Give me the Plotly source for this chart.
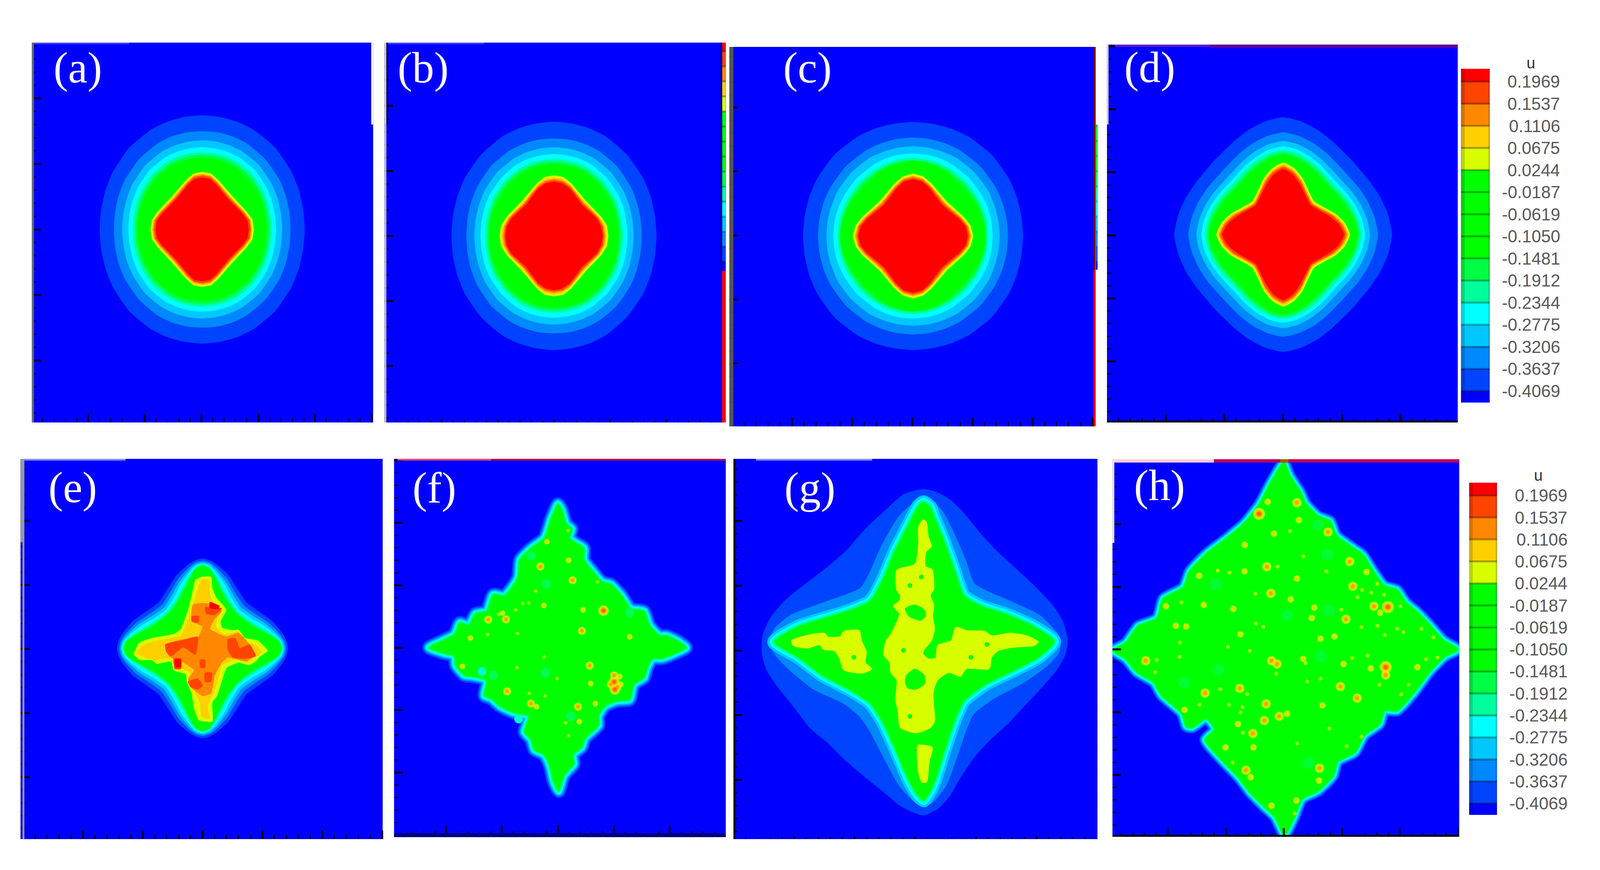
import math
import plotly.graph_objects as go

# positions below were read on the 4348x2226 reference, layout fills whatever window it gets
W, H = 4348, 2226

# contour levels of u, colours of the 16 legend cells (bottom to top)
levels = [-0.4069, -0.3637, -0.3206, -0.2775, -0.2344, -0.1912, -0.1481, -0.1050,
          -0.0619, -0.0187, 0.0244, 0.0675, 0.1106, 0.1537, 0.1969]
level_labels = ["-0.4069", "-0.3637", "-0.3206", "-0.2775", "-0.2344", "-0.1912", "-0.1481", "-0.1050",
                "-0.0619", "-0.0187", "0.0244", "0.0675", "0.1106", "0.1537", "0.1969"]
cell_colors = ["#0000ff", "#0044ff", "#0088ff", "#00c8ff", "#00ffff", "#00ff9c", "#00ff44", "#00ff00",
               "#00ff00", "#00ff00", "#00ff00", "#d8ff00", "#ffd000", "#ff8800", "#ff4400", "#ff0000"]
ring_colors = ["#0044ff", "#0088ff", "#00c8ff", "#00ffff", "#00ff9c", "#00ff44", "#00ff00",
               "#d8ff00", "#ffd000", "#ff8800", "#ff4400", "#ff0000"]
YELLOW, GOLD, ORANGE, RED_ORANGE, RED, GREEN = "#d8ff00", "#ffd000", "#ff8800", "#ff4400", "#ff0000", "#00ff00"

# contour radii, % of the panel size, by angle in a quadrant (outermost contour first)
round_angles = [0, 10, 20, 30, 45]
a_rings = [[30, 30, 30.1, 30.2, 30.3], [25.8, 25.9, 26, 26.1, 26.1], [23.4, 23.4, 23.5, 23.6, 23.7],
           [21.6, 21.6, 21.7, 21.8, 21.9], [20.3, 20.3, 20.4, 20.5, 20.6], [19.6, 19.6, 19.7, 19.7, 19.8],
           [18.9, 18.9, 18.9, 19, 19], [15.1, 14.9, 13.8, 12.9, 12.4], [14.7, 14.5, 13.4, 12.5, 12],
           [14.4, 14.2, 13.1, 12.2, 11.7], [14.1, 13.9, 12.8, 11.9, 11.4], [13.6, 13.4, 12.4, 11.5, 11]]
b_rings = [[30, 30, 30.1, 30.2, 30.2], [25.6, 25.7, 25.8, 25.9, 26], [23.3, 23.3, 23.4, 23.5, 23.6],
           [21.5, 21.5, 21.6, 21.7, 21.7], [20.2, 20.2, 20.3, 20.4, 20.4], [19.5, 19.5, 19.6, 19.7, 19.7],
           [18.9, 18.9, 19, 19, 19], [15.9, 15.7, 14.7, 13.7, 13.1], [15.4, 15.2, 14.3, 13.3, 12.7],
           [15, 14.8, 14, 13, 12.3], [14.6, 14.4, 13.7, 12.7, 12], [14.2, 14, 13.3, 12.3, 11.5]]
c_rings = [[30, 30, 30.1, 30.2, 30.3], [25.9, 25.9, 25.9, 25.9, 25.9], [23.6, 23.6, 23.6, 23.7, 23.7],
           [21.7, 21.7, 21.7, 21.6, 21.6], [20.5, 20.5, 20.4, 20.3, 20.3], [20, 19.9, 19.8, 19.7, 19.6],
           [19.8, 19.6, 19.4, 19.1, 18.8], [16.4, 15.9, 14.7, 13.6, 12.9], [16, 15.5, 14.3, 13.2, 12.5],
           [15.7, 15.2, 14, 12.9, 12.2], [15.3, 14.9, 13.7, 12.6, 11.8], [14.9, 14.5, 13.3, 12.1, 11.4]]
d_rings = [[31, 30.3, 29.3, 28.3, 27.7], [27, 26.4, 25.6, 24.8, 24.1], [24.7, 24.2, 23.4, 22.6, 21.9],
           [23.3, 22.8, 22, 21.2, 20.5], [22.3, 21.8, 21.1, 20.3, 19.6], [21.7, 21.2, 20.3, 19.5, 18.8],
           [21.1, 20.6, 19.6, 18.9, 18.2], [19, 17.8, 15.9, 13.9, 12.4], [18.6, 17.4, 15.5, 13.5, 12],
           [18.2, 17, 15.1, 13.1, 11.7], [17.8, 16.6, 14.7, 12.8, 11.4], [17.3, 16, 14, 12.3, 11]]
star_angles = [0, 5, 10, 20, 30, 45]
e_rings = [[23.6, 23.2, 22.4, 20.6, 18.6, 17.1], [23, 22.6, 21.6, 19.5, 17.4, 16], [22.6, 22.2, 21, 18.6, 16.5, 15.1],
           [22.3, 21.8, 20.4, 17.8, 15.6, 14.3], [22, 21.4, 19.7, 16.6, 14.7, 13.6], [21.8, 21.2, 19.3, 16, 14.2, 13.3],
           [21.7, 21, 19, 15.5, 13.9, 13]]

# panel (e): blotches inside the star
e_yellow = [(775, 497), (815, 497), (820, 540), (835, 575), (878, 625), (855, 670), (860, 695), (905, 705), (930, 703),
            (955, 735), (1010, 745), (1050, 785), (1020, 805), (1000, 825), (975, 840), (930, 830), (880, 850), (860, 900),
            (840, 960), (820, 985), (820, 1060), (765, 1055), (745, 1010), (735, 950), (715, 905), (710, 875), (660, 860),
            (650, 825), (590, 835), (570, 820), (520, 820), (495, 800), (515, 755), (570, 735), (660, 720), (690, 700),
            (720, 625), (735, 570), (750, 510)]
e_gold = [(780, 505), (805, 510), (810, 560), (825, 600), (860, 625), (840, 660), (835, 690), (870, 720), (930, 712),
          (950, 745), (1000, 760), (1025, 790), (990, 815), (965, 830), (925, 818), (860, 840), (845, 895), (825, 950),
          (800, 1000), (810, 1050), (775, 1040), (770, 990), (740, 930), (725, 895), (730, 870), (680, 850), (640, 815),
          (580, 820), (540, 810), (505, 795), (530, 765), (590, 745), (690, 725), (725, 650), (745, 590), (765, 530)]
e_orange = [(740, 605), (800, 600), (860, 630), (830, 660), (810, 700), (850, 720), (880, 730), (930, 715), (975, 760),
            (1000, 800), (960, 825), (885, 810), (860, 830), (830, 880), (815, 950), (780, 960), (730, 925), (720, 895),
            (745, 860), (700, 830), (640, 805), (625, 760), (700, 740), (760, 735), (780, 690), (735, 670)]
e_hot = [[(625, 760), (690, 745), (760, 730), (750, 800), (700, 770), (650, 805), (630, 790)],
         [(885, 740), (915, 735), (935, 775), (975, 760), (1000, 805), (960, 815), (905, 810), (885, 780)],
         [(720, 905), (760, 893), (780, 920), (760, 935), (730, 925)],
         [(790, 615), (860, 620), (830, 645), (795, 640)],
         [(735, 650), (765, 650), (762, 675), (735, 670)],
         [(790, 870), (820, 870), (815, 905), (790, 905)],
         [(770, 820), (790, 820), (790, 850), (770, 850)],
         [(660, 815), (690, 815), (690, 855), (665, 855)]]
e_red = [[(810, 595), (850, 610), (845, 622), (810, 618)], [(665, 818), (690, 818), (688, 848), (668, 848)]]

# panel (f): edge of the green region and the hot spots (x, y, peak band)
f_edge = [(762, 212), (780, 235), (800, 290), (825, 310), (815, 345), (845, 365), (880, 385), (880, 430), (920, 475),
          (960, 515), (1000, 525), (1050, 570), (1090, 620), (1150, 630), (1175, 685), (1220, 725), (1250, 725),
          (1300, 745), (1340, 772), (1290, 795), (1230, 815), (1190, 815), (1165, 850), (1150, 890), (1105, 915),
          (1085, 975), (1030, 980), (975, 1000), (945, 1040), (945, 1075), (885, 1125), (870, 1160), (830, 1190),
          (835, 1225), (790, 1270), (765, 1332), (740, 1290), (725, 1235), (700, 1190), (655, 1170), (640, 1130),
          (610, 1100), (630, 1040), (560, 1025), (500, 1000), (460, 970), (430, 960), (440, 900), (380, 885), (340, 880),
          (300, 840), (295, 805), (250, 795), (180, 772), (240, 745), (295, 720), (320, 675), (360, 685), (390, 640),
          (440, 630), (470, 565), (520, 570), (580, 500), (590, 430), (640, 385), (700, 345), (730, 270)]
f_spots = [(712, 360, 2), (808, 316, 1), (810, 432, 2), (683, 456, 3), (828, 510, 3), (940, 516, 1), (662, 552, 1),
           (603, 600, 1), (630, 598, 1), (572, 625, 1), (698, 608, 2), (512, 638, 2), (528, 662, 3), (448, 663, 3),
           (494, 643, 1), (875, 625, 2), (967, 628, 4), (870, 707, 3), (580, 717, 1), (445, 721, 1), (368, 735, 2),
           (1085, 730, 2), (700, 808, 1), (905, 842, 3), (332, 845, 2), (577, 850, 1), (758, 893, 1), (1040, 885, 2),
           (1045, 915, 2), (1000, 915, 3), (1030, 925, 3), (1015, 880, 3), (1015, 905, 4), (1018, 935, 4), (910, 912, 2),
           (533, 942, 3), (632, 950, 1), (640, 990, 3), (665, 1002, 2), (703, 960, 1), (930, 990, 2), (852, 1002, 3),
           (858, 1060, 2), (810, 1115, 1), (797, 1065, 1)]
f_pale = [(705, 870), (710, 525), (1085, 635), (470, 880), (820, 1040), (640, 415)]
f_cyan = [(420, 865), (585, 1050)]

# panel (g): outer contours, edge of the green region, yellow regions and the holes in them
g_outer = [(822, 155), (870, 165), (930, 195), (990, 250), (1060, 330), (1130, 400), (1200, 460), (1280, 530), (1360, 610),
           (1400, 670), (1420, 745), (1410, 800), (1370, 865), (1310, 930), (1240, 1000), (1170, 1070), (1100, 1130),
           (1040, 1190), (980, 1270), (930, 1350), (880, 1400), (822, 1425), (770, 1410), (720, 1385), (650, 1330),
           (570, 1270), (490, 1205), (420, 1140), (350, 1085), (280, 1000), (220, 930), (170, 860), (150, 790), (155, 720),
           (190, 650), (250, 585), (330, 525), (420, 460), (500, 395), (580, 310), (660, 240), (740, 175)]
g_second = [(822, 192), (860, 205), (900, 240), (945, 320), (1000, 440), (1030, 520), (1080, 550), (1180, 590), (1310, 650),
            (1380, 720), (1390, 750), (1385, 790), (1340, 840), (1235, 910), (1115, 970), (1030, 1030), (1000, 1090),
            (960, 1200), (915, 1310), (860, 1375), (822, 1392), (785, 1375), (720, 1310), (650, 1190), (600, 1100),
            (555, 1040), (490, 990), (365, 935), (265, 860), (205, 800), (180, 748), (205, 695), (270, 645), (380, 605),
            (500, 565), (560, 540), (600, 475), (650, 370), (720, 260), (785, 205)]
g_edge = [(822, 205), (850, 225), (860, 250), (900, 340), (950, 470), (990, 570), (1060, 610), (1160, 640), (1280, 690),
          (1365, 748), (1300, 810), (1200, 860), (1080, 915), (990, 980), (950, 1060), (910, 1170), (870, 1290),
          (845, 1340), (822, 1368), (795, 1345), (760, 1290), (700, 1160), (650, 1060), (600, 990), (520, 940),
          (400, 880), (300, 810), (200, 750), (300, 690), (400, 660), (520, 625), (600, 590), (650, 510), (700, 400),
          (760, 290), (800, 220)]
g_yellow = [[(822, 272), (835, 285), (842, 340), (855, 378), (832, 400), (830, 455), (858, 468), (865, 545), (850, 570),
             (865, 605), (860, 650), (868, 700), (855, 745), (825, 780), (820, 795), (840, 815), (870, 812), (880, 762),
             (935, 745), (955, 692), (1000, 705), (1075, 708), (1105, 725), (1180, 715), (1250, 725), (1300, 750),
             (1280, 765), (1190, 772), (1130, 785), (1105, 810), (1095, 855), (1000, 855), (975, 885), (925, 870),
             (880, 900), (862, 950), (868, 1060), (850, 1085), (790, 1105), (725, 1085), (715, 1020), (705, 975),
             (710, 900), (685, 870), (680, 830), (655, 800), (665, 745), (685, 720), (715, 660), (720, 640), (695, 610),
             (720, 590), (725, 570), (710, 550), (710, 470), (780, 450), (790, 440), (800, 370), (800, 300)],
            [(272, 745), (330, 725), (410, 715), (425, 730), (475, 728), (490, 708), (555, 705), (565, 745), (585, 790),
             (580, 830), (608, 855), (570, 872), (490, 860), (470, 810), (450, 785), (405, 780), (390, 762), (340, 775),
             (280, 765)],
            [(798, 1152), (858, 1160), (845, 1220), (835, 1295), (815, 1298), (800, 1260), (795, 1200)]]
g_holes = [[(745, 620), (785, 605), (825, 625), (830, 650), (810, 667), (760, 650)],
           [(750, 880), (785, 855), (825, 880), (825, 915), (790, 935), (755, 930), (745, 905)]]
g_small_holes = [(812, 497), (765, 530), (738, 783), (765, 1040), (532, 810), (1018, 810), (1085, 760)]

# panel (h): edge of the green region and the hot spots (x, y, peak band)
h_edge = [(570, 48), (590, 100), (625, 165), (640, 205), (680, 255), (720, 275), (740, 330), (790, 375), (825, 405),
          (860, 470), (895, 525), (935, 540), (965, 590), (1000, 625), (1040, 675), (1085, 735), (1133, 772), (1090, 800),
          (1040, 860), (1000, 925), (965, 975), (935, 1010), (895, 1010), (880, 1060), (830, 1105), (800, 1170),
          (745, 1205), (730, 1260), (680, 1320), (630, 1350), (605, 1420), (572, 1490), (540, 1420), (505, 1380),
          (460, 1325), (425, 1270), (365, 1195), (315, 1120), (345, 1080), (320, 1040), (275, 1075), (255, 1070),
          (240, 1020), (175, 950), (150, 900), (95, 860), (60, 810), (18, 775), (60, 745), (100, 680), (160, 650),
          (180, 575), (245, 530), (265, 470), (320, 400), (380, 345), (440, 285), (490, 210), (525, 130)]
h_spots = [(490, 248, 4), (518, 202, 2), (612, 205, 3), (618, 272, 2), (590, 315, 1), (538, 325, 2), (712, 318, 3),
           (444, 368, 2), (633, 412, 1), (782, 432, 3), (515, 452, 3), (550, 452, 1), (357, 467, 1), (395, 475, 1),
           (443, 470, 2), (297, 487, 2), (707, 470, 1), (836, 473, 2), (612, 498, 2), (792, 528, 3), (822, 542, 1),
           (870, 518, 1), (528, 555, 3), (478, 556, 1), (592, 578, 2), (807, 570, 1), (852, 552, 1), (893, 560, 1),
           (190, 605, 2), (240, 590, 1), (312, 600, 2), (407, 615, 2), (860, 605, 3), (905, 608, 4), (880, 630, 2),
           (945, 605, 1), (668, 610, 2), (660, 650, 2), (770, 655, 3), (755, 618, 1), (222, 680, 2), (255, 683, 2),
           (480, 672, 1), (504, 684, 1), (820, 686, 1), (872, 680, 1), (1013, 692, 1), (935, 692, 1), (430, 713, 2),
           (688, 730, 2), (733, 722, 2), (895, 716, 1), (1052, 725, 1), (955, 705, 1), (235, 745, 1), (390, 762, 1),
           (460, 777, 1), (125, 815, 3), (160, 812, 1), (155, 860, 1), (530, 815, 3), (548, 828, 3), (632, 808, 2),
           (640, 825, 1), (762, 828, 2), (790, 805, 1), (840, 795, 1), (1065, 803, 1), (1028, 810, 1), (1000, 840, 2),
           (898, 840, 4), (898, 870, 3), (850, 845, 2), (235, 800, 1), (545, 865, 1), (688, 885, 1), (645, 895, 1),
           (752, 915, 3), (972, 908, 1), (878, 908, 1), (806, 960, 3), (948, 945, 1), (316, 940, 3), (365, 925, 1),
           (428, 922, 3), (452, 945, 1), (298, 985, 1), (393, 985, 1), (513, 982, 3), (694, 988, 2), (250, 1005, 2),
           (437, 995, 1), (430, 1015, 1), (555, 1030, 3), (580, 1020, 2), (507, 1046, 3), (422, 1060, 2), (716, 1077, 1),
           (470, 1096, 3), (438, 1093, 1), (820, 1108, 1), (382, 1150, 2), (472, 1150, 2), (612, 1135, 1), (772, 1145, 1),
           (685, 1230, 3), (448, 1238, 3), (463, 1265, 2), (683, 1278, 2), (610, 1355, 2), (530, 1375, 2), (605, 1405, 1),
           (405, 1208, 1)]
h_pale = [(680, 290), (710, 405), (350, 520), (715, 620), (690, 800), (360, 850), (250, 900), (580, 640), (650, 1210)]

# panels: label, label position, pixel box on the page, axis ranges, tick start and spacing (x then y)
panels = [
    dict(name="(a)", at=(238, 140), box=(87, 1018, 109, 1081), xr=(41, 1502), yr=(1510, 44), xt=(767, 243), yt=(765, 253), xlen=22),
    dict(name="(b)", at=(195, 140), box=(1049, 1980, 109, 1081), xr=(30, 1490), yr=(1510, 44), xt=(755, 240), yt=(790, 251), xlen=8),
    dict(name="(c)", at=(348, 140), box=(1990, 2989, 120, 1091), xr=(30, 1522), yr=(1525, 60), xt=(775, 245), yt=(788, 247), xlen=22),
    dict(name="(d)", at=(170, 140), box=(3020, 3977, 114, 1081), xr=(35, 1140), yr=(1510, 52), xt=(590, 185), yt=(788, 243), xlen=22),
    dict(name="(e)", at=(240, 148), box=(56, 1044, 1174, 2147), xr=(24, 1528), yr=(1518, 37), xt=(780, 248.5), yt=(778, 249.5), xlen=22),
    dict(name="(f)", at=(205, 150), box=(1075, 1980, 1174, 2142), xr=(24, 1518), yr=(1510, 37), xt=(762, 252), yt=(772, 243), xlen=30),
    dict(name="(g)", at=(350, 150), box=(2001, 2994, 1174, 2147), xr=(32, 1544), yr=(1518, 37), xt=(787, 252), yt=(783, 252), xlen=8),
    dict(name="(h)", at=(170, 138), box=(3035, 3981, 1175, 2141), xr=(18, 1135), yr=(1495, 37), xt=(570, 187), yt=(772, 242), xlen=22),
]

# edge slivers left over on each panel: panel index, x0, x1, y0, y1, colour
slivers = [
    (0, 41, 50, 44, 1510, "#666666"), (0, 50, 458, 44, 50, "#4444ff"), (0, 1494, 1502, 44, 360, "#ffffff"),
    (1, 30, 38, 360, 1510, "#bbbbbb"), (1, 30, 38, 44, 360, "#cccccc"), (1, 38, 44, 44, 360, "#000044"),
    (1, 44, 455, 44, 50, "#4444ff"), (1, 1474, 1490, 925, 1510, "#ff0000"), (1, 1468, 1474, 44, 920, "#000066"),
    (2, 30, 46, 60, 1525, "#555555"), (2, 1514, 1522, 60, 920, "#800000"), (2, 1514, 1522, 920, 1525, "#ff0000"),
    (3, 35, 40, 52, 360, "#cccccc"), (3, 60, 360, 52, 60, "#6a20c0"), (3, 360, 1140, 52, 66, "#5a00a0"),
    (3, 35, 1140, 1503, 1510, "#000000"),
    (4, 24, 40, 37, 362, "#999999"), (4, 32, 40, 362, 1518, "#999999"), (4, 40, 460, 37, 44, "#8888ee"),
    (5, 40, 462, 37, 44, "#e0407a"), (5, 462, 1518, 37, 44, "#c0004a"), (5, 24, 1518, 1495, 1510, "#000080"),
    (6, 32, 40, 37, 1518, "#000000"), (6, 125, 608, 37, 44, "#8888ee"),
    (7, 18, 345, 37, 50, "#ffd0d0"), (7, 345, 1135, 37, 50, "#b8005a"), (7, 558, 585, 37, 50, "#a06000"),
    (7, 18, 24, 37, 360, "#dddddd"), (7, 18, 1135, 1488, 1495, "#000000"),
]

# legend bars: pixel box, right edge of the labels, "u" position
legend_bars = [
    dict(box=(3986, 4064, 176, 1030), labels_right=4258, u_x=4176, u_y=161),
    dict(box=(4008, 4084, 1235, 2085), labels_right=4279, u_x=4197, u_y=1216),
]
# colour strips left on the edges of (b) and (c)
edge_strips = [dict(box=(1970, 1980, 109, 690), low=None), dict(box=(2990, 2994, 319, 690), low=-0.015)]

round_rings = {0: (a_rings, (770, 765), "linear"), 1: (b_rings, (755, 790), "linear"),
               2: (c_rings, (778, 790), "linear"), 3: (d_rings, (590, 785), "spline")}


def whole_angles(angles):
    # quadrant table mirrored round the whole circle
    quarter = angles + [90 - a for a in reversed(angles[:-1])]
    whole = []
    for q in range(4):
        whole += [a + 90 * q for a in quarter[:-1]]
    return whole


def whole_radii(radii):
    quarter = radii + list(reversed(radii[:-1]))
    return quarter[:-1] * 4


def area(fig, n, pts, color, shape="spline", smoothing=0.6):
    xs = [p[0] for p in pts] + [pts[0][0]]
    ys = [p[1] for p in pts] + [pts[0][1]]
    fig.add_trace(go.Scatter(x=xs, y=ys, mode="lines", fill="toself", fillcolor=color,
                             line=dict(color=color, width=1, shape=shape, smoothing=smoothing),
                             xaxis=f"x{n}", yaxis=f"y{n}", hoverinfo="skip", showlegend=False))


def halo(fig, n, pts, bands):
    xs = [p[0] for p in pts] + [pts[0][0]]
    ys = [p[1] for p in pts] + [pts[0][1]]
    for color, width in bands:
        fig.add_trace(go.Scatter(x=xs, y=ys, mode="lines",
                                 line=dict(color=color, width=width, shape="spline", smoothing=0.6),
                                 xaxis=f"x{n}", yaxis=f"y{n}", hoverinfo="skip", showlegend=False))


def rings(fig, n, panel, table, angles, center, colors, inner_shape="spline"):
    sx = (panel["xr"][1] - panel["xr"][0]) / 100
    sy = (panel["yr"][0] - panel["yr"][1]) / 100
    deg = whole_angles(angles)
    for k, (radii, color) in enumerate(zip(table, colors)):
        pts = [(center[0] + r * sx * math.cos(math.radians(t)), center[1] - r * sy * math.sin(math.radians(t)))
               for r, t in zip(whole_radii(radii), deg)]
        # flat-sided diamonds in the middle come out concave with a spline
        area(fig, n, pts, color, shape=inner_shape if k >= 7 else "spline", smoothing=0.5)


def spots(fig, n, table, tiers, base=9, step=6):
    for j, color in enumerate(tiers):
        chosen = [s for s in table if s[2] >= j + 1]
        fig.add_trace(go.Scatter(x=[s[0] for s in chosen], y=[s[1] for s in chosen], mode="markers",
                                 marker=dict(color=color, size=[base + step * (s[2] - j - 1) for s in chosen], line_width=0),
                                 xaxis=f"x{n}", yaxis=f"y{n}", hoverinfo="skip", showlegend=False))


def blobs(fig, n, xy, color, size):
    fig.add_trace(go.Scatter(x=[p[0] for p in xy], y=[p[1] for p in xy], mode="markers",
                             marker=dict(color=color, size=size, line_width=0),
                             xaxis=f"x{n}", yaxis=f"y{n}", hoverinfo="skip", showlegend=False))


def dom(box):
    return dict(x=[box[0] / W, box[1] / W], y=[1 - box[3] / H, 1 - box[2] / H])


fig = go.Figure()
layout = {}
annotations = []
shapes = []

for i, p in enumerate(panels):
    n = i + 1
    d = dom(p["box"])
    suffix = "" if n == 1 else str(n)
    layout["xaxis" + suffix] = dict(
        domain=d["x"], range=list(p["xr"]), anchor=f"y{n}", showgrid=False, zeroline=False, showticklabels=False,
        ticks="inside", tick0=p["xt"][0], dtick=p["xt"][1], ticklen=p["xlen"], tickwidth=5, tickcolor="#000022",
        minor=dict(ticks="inside", tick0=p["xt"][0], dtick=p["xt"][1] / 5, ticklen=max(p["xlen"] // 2, 5),
                   tickwidth=3, tickcolor="#000033", showgrid=False))
    layout["yaxis" + suffix] = dict(
        domain=d["y"], range=list(p["yr"]), anchor=f"x{n}", showgrid=False, zeroline=False, showticklabels=False,
        ticks="inside", tick0=p["yt"][0], dtick=p["yt"][1], ticklen=22, tickwidth=5, tickcolor="#000022",
        minor=dict(ticks="inside", tick0=p["yt"][0], dtick=p["yt"][1] / 5, ticklen=11,
                   tickwidth=3, tickcolor="#000033", showgrid=False))
    annotations.append(dict(text=p["name"], x=p["at"][0], y=p["at"][1], xref=f"x{n}", yref=f"y{n}", showarrow=False,
                            font=dict(family="Liberation Serif", size=112, color="#ffffff")))

for i, (tbl, c, inner) in round_rings.items():
    rings(fig, i + 1, panels[i], tbl, round_angles, c, ring_colors, inner)

# (e)
rings(fig, 5, panels[4], e_rings, star_angles, (780, 775), ring_colors)
area(fig, 5, e_yellow, YELLOW, smoothing=0.4)
area(fig, 5, e_gold, GOLD, smoothing=0.4)
area(fig, 5, e_orange, ORANGE, smoothing=0.4)
for blob in e_hot:
    area(fig, 5, blob, RED_ORANGE, smoothing=0.4)
for blob in e_red:
    area(fig, 5, blob, RED, smoothing=0.4)

# (f)
halo(fig, 6, f_edge, [("#0044ff", 34), ("#0088ff", 26), ("#00c8ff", 20), ("#00ffff", 14), ("#00ff9c", 8)])
area(fig, 6, f_edge, GREEN)
blobs(fig, 6, f_pale, "#00ff50", 24)
blobs(fig, 6, f_cyan, "#00ffcc", 22)
spots(fig, 6, f_spots, [YELLOW, GOLD, ORANGE, RED_ORANGE])

# (g)
area(fig, 7, g_outer, "#0044ff")
area(fig, 7, g_second, "#0088ff")
halo(fig, 7, g_edge, [("#00c8ff", 34), ("#00ffff", 22), ("#00ff9c", 10)])
area(fig, 7, g_edge, GREEN)
for blob in g_yellow:
    area(fig, 7, blob, YELLOW)
for blob in g_holes:
    area(fig, 7, blob, GREEN)
blobs(fig, 7, g_small_holes, GREEN, 12)

# (h)
halo(fig, 8, h_edge, [("#0044ff", 28), ("#0088ff", 22), ("#00c8ff", 16), ("#00ffff", 11), ("#00ff9c", 6)])
area(fig, 8, h_edge, GREEN)
blobs(fig, 8, h_pale, "#00ff30", 30)
spots(fig, 8, h_spots, [YELLOW, GOLD, ORANGE, RED_ORANGE], base=10, step=7)

# legends and strips
step = levels[1] - levels[0]
edges = [levels[0] - 0.52 * step] + levels + [levels[-1] + 0.58 * step]
scale = []
for k, c in enumerate(cell_colors):
    scale += [[k / 16, c], [(k + 1) / 16, c]]


def level_bar(n, box, low_top=None):
    d = dom(box)
    top = edges[-1] if low_top is None else low_top
    fig.add_trace(go.Heatmap(z=[[k] for k in range(16)], x=[0, 1], y=edges, colorscale=scale, zmin=-0.5, zmax=15.5,
                             showscale=False, xaxis=f"x{n}", yaxis=f"y{n}", hoverinfo="skip"))
    lx, ly = [], []
    for v in levels:
        lx += [0, 1, None]
        ly += [v, v, None]
    fig.add_trace(go.Scatter(x=lx, y=ly, mode="lines", line=dict(color="rgba(0,0,0,0.3)", width=5),
                             xaxis=f"x{n}", yaxis=f"y{n}", hoverinfo="skip", showlegend=False))
    layout[f"xaxis{n}"] = dict(domain=d["x"], range=[0, 1], anchor=f"y{n}", visible=False)
    layout[f"yaxis{n}"] = dict(domain=d["y"], range=[edges[0], top], anchor=f"x{n}", visible=False)


n = 9
for bar in legend_bars:
    level_bar(n, bar["box"])
    shapes.append(dict(type="rect", xref=f"x{n}", yref=f"y{n}", x0=0, x1=0.13, y0=edges[0], y1=edges[-1],
                       fillcolor="rgba(0,0,0,0.16)", line_width=0))
    shapes.append(dict(type="rect", xref=f"x{n}", yref=f"y{n}", x0=0.95, x1=1, y0=edges[0], y1=edges[-1],
                       fillcolor="rgba(0,0,0,0.16)", line_width=0))
    for v, lab in zip(levels, level_labels):
        annotations.append(dict(text=lab, x=bar["labels_right"] / W, xref="paper", xanchor="right", y=v, yref=f"y{n}",
                                yanchor="middle", showarrow=False,
                                font=dict(family="Liberation Sans", size=44, color="#585858")))
    annotations.append(dict(text="u", x=bar["u_x"] / W, xref="paper", xanchor="center", y=1 - bar["u_y"] / H, yref="paper",
                            yanchor="middle", showarrow=False,
                            font=dict(family="Liberation Sans", size=40, color="#333333")))
    n += 1
for strip in edge_strips:
    level_bar(n, strip["box"], strip["low"])
    n += 1

for pi, x0, x1, y0, y1, color in slivers:
    k = pi + 1
    shapes.append(dict(type="rect", xref=f"x{k}", yref=f"y{k}", x0=x0, x1=x1, y0=y0, y1=y1,
                       fillcolor=color, line_width=0))

fig.update_layout(margin=dict(l=0, r=0, t=0, b=0), paper_bgcolor="#ffffff", plot_bgcolor="#0000ff",
                  showlegend=False, annotations=annotations, shapes=shapes, **layout)

fig.write_html("out.html", default_width="100%", default_height="100vh",
               config=dict(responsive=True, displayModeBar=False),
               post_script="document.body.style.margin='0';")
